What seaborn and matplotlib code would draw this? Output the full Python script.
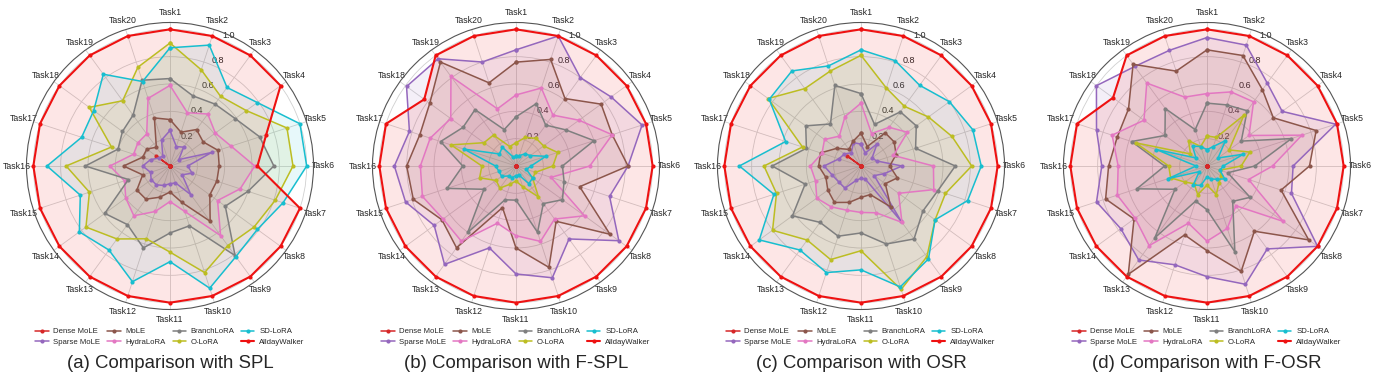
import numpy as np
import pandas as pd
import matplotlib
matplotlib.use("Agg")
import matplotlib.pyplot as plt
import seaborn as sns

sns.set_style("white")
plt.rcParams['font.family'] = ['Liberation Sans', 'DejaVu Sans']

TASKS = [f"Task{i}" for i in range(1, 21)]
METHODS = ["Dense MoLE", "Sparse MoLE", "MoLE", "HydraLoRA",
           "BranchLoRA", "O-LoRA", "SD-LoRA", "AlldayWalker"]
COLORS = ["tab:red", "tab:purple", "tab:brown", "tab:pink",
          "tab:gray", "tab:olive", "tab:cyan", "#ee1111"]
PANEL_TITLES = ["(a) Comparison with SPL", "(b) Comparison with F-SPL",
                "(c) Comparison with OSR", "(d) Comparison with F-OSR"]
RTICKS = [0.2, 0.4, 0.6, 0.8, 1.0]
RTICK_LABELS = ["0.2", "0.4", "0.6", "0.8", "1.0"]

# ---- (a) SPL ----
SPL_DENSE = [0, 0, 0, 0, 0, 0, 0, 0, 0, 0, 0, 0, 0, 0, 0, 0, 0, 0.13, 0, 0]
SPL_SPARSE = [0.26, 0.15, 0.17, 0.08, 0.32, 0.13, 0.17, 0.11, 0.26, 0.13, 0.13, 0.15, 0.17, 0.17, 0.15, 0.20, 0.15, 0.10, 0.09, 0.20]
SPL_MOLE = [0.34, 0.26, 0.33, 0.30, 0.37, 0.36, 0.36, 0.36, 0.50, 0.28, 0.19, 0.24, 0.30, 0.30, 0.21, 0.34, 0.21, 0.21, 0.17, 0.37]
SPL_HYDRA = [0.59, 0.41, 0.47, 0.41, 0.47, 0.62, 0.54, 0.43, 0.63, 0.35, 0.26, 0.35, 0.45, 0.40, 0.35, 0.44, 0.28, 0.29, 0.29, 0.52]
SPL_BRANCH = [0.64, 0.54, 0.56, 0.59, 0.69, 0.76, 0.60, 0.50, 0.81, 0.46, 0.49, 0.63, 0.53, 0.59, 0.32, 0.62, 0.40, 0.43, 0.46, 0.66]
SPL_OLORA = [0.90, 0.74, 0.63, 0.69, 0.90, 0.90, 0.81, 0.76, 0.72, 0.82, 0.63, 0.56, 0.66, 0.76, 0.62, 0.76, 0.45, 0.73, 0.59, 0.76]
SPL_SDLORA = [0.865, 0.93, 0.71, 0.79, 1.0, 1.0, 0.87, 0.79, 0.82, 0.94, 0.70, 0.89, 0.76, 0.82, 0.69, 0.90, 0.68, 0.69, 0.83, 0.65]
SPL_ALLDAY = [1, 1, 1, 1, 0.74, 0.64, 1, 1, 1, 1, 1, 1, 1, 1, 1, 1, 1, 1, 1, 1]

# ---- (b) F-SPL ----
FSPL_DENSE = [0] * 20
FSPL_SPARSE = [0.85, 1.0, 0.80, 0.86, 0.97, 0.82, 0.72, 0.93, 0.66, 0.86, 0.79, 0.63, 0.89, 0.74, 0.85, 0.89, 0.82, 0.99, 0.97, 0.80]
FSPL_MOLE = [0.76, 0.82, 0.61, 0.77, 0.74, 0.82, 0.49, 0.85, 0.50, 0.78, 0.60, 0.32, 0.74, 0.67, 0.79, 0.80, 0.74, 0.78, 0.94, 0.64]
FSPL_HYDRA = [0.52, 0.60, 0.46, 0.57, 0.74, 0.54, 0.27, 0.62, 0.48, 0.58, 0.51, 0.44, 0.68, 0.66, 0.72, 0.70, 0.66, 0.59, 0.81, 0.44]
FSPL_BRANCH = [0.36, 0.48, 0.37, 0.45, 0.60, 0.34, 0.37, 0.42, 0.34, 0.51, 0.25, 0.26, 0.60, 0.29, 0.53, 0.39, 0.58, 0.48, 0.51, 0.28]
FSPL_OLORA = [0.17, 0.22, 0.25, 0.25, 0.32, 0.27, 0.15, 0.15, 0.28, 0.16, 0.11, 0.14, 0.20, 0.18, 0.28, 0.25, 0.50, 0.29, 0.28, 0.15]
FSPL_SDLORA = [0.07, 0.08, 0.11, 0.13, 0.23, 0.11, 0.08, 0.15, 0.16, 0.07, 0.07, 0.09, 0.09, 0.13, 0.13, 0.15, 0.40, 0.15, 0.17, 0.07]
FSPL_ALLDAY = [1, 1, 1, 1, 1, 1, 1, 1, 1, 1, 1, 1, 1, 1, 1, 1, 1, 0.83, 1, 1]

# ---- (c) OSR ----
OSR_DENSE = [0, 0, 0, 0, 0, 0, 0, 0, 0, 0, 0, 0, 0, 0, 0, 0, 0, 0.13, 0, 0]
OSR_SPARSE = [0.16, 0.10, 0.20, 0.10, 0.12, 0.30, 0.18, 0.12, 0.50, 0.10, 0.09, 0.11, 0.20, 0.20, 0.22, 0.27, 0.17, 0.15, 0.12, 0.18]
OSR_MOLE = [0.24, 0.15, 0.30, 0.30, 0.27, 0.21, 0.28, 0.22, 0.37, 0.22, 0.23, 0.28, 0.33, 0.30, 0.27, 0.31, 0.31, 0.22, 0.15, 0.19]
OSR_HYDRA = [0.46, 0.25, 0.35, 0.42, 0.25, 0.53, 0.56, 0.34, 0.51, 0.36, 0.34, 0.34, 0.37, 0.40, 0.35, 0.37, 0.30, 0.33, 0.27, 0.38]
OSR_BRANCH = [0.53, 0.32, 0.49, 0.50, 0.42, 0.69, 0.59, 0.56, 0.66, 0.60, 0.49, 0.54, 0.51, 0.62, 0.43, 0.65, 0.42, 0.50, 0.38, 0.62]
OSR_OLORA = [0.81, 0.60, 0.54, 0.61, 0.70, 0.81, 0.65, 0.67, 0.82, 0.95, 0.62, 0.72, 0.67, 0.80, 0.65, 0.71, 0.45, 0.84, 0.70, 0.73]
OSR_SDLORA = [0.85, 0.81, 0.73, 0.80, 0.86, 0.88, 0.82, 0.67, 0.84, 0.93, 0.76, 0.82, 0.76, 0.92, 0.67, 0.89, 0.58, 0.83, 0.86, 0.77]
OSR_ALLDAY = [1] * 20

# ---- (d) F-OSR ----
FOSR_DENSE = [0] * 20
FOSR_SPARSE = [0.94, 0.93, 0.75, 0.68, 0.99, 0.63, 0.65, 1.0, 0.75, 0.91, 0.81, 0.76, 0.85, 0.78, 0.85, 0.77, 0.85, 1.0, 0.90, 0.89]
FOSR_MOLE = [0.85, 0.85, 0.69, 0.60, 0.84, 0.75, 0.57, 0.92, 0.59, 0.81, 0.62, 0.53, 0.98, 0.66, 0.78, 0.72, 0.69, 0.71, 0.92, 0.73]
FOSR_HYDRA = [0.53, 0.57, 0.58, 0.38, 0.73, 0.48, 0.32, 0.69, 0.36, 0.48, 0.55, 0.44, 0.72, 0.65, 0.69, 0.65, 0.73, 0.57, 0.75, 0.53]
FOSR_BRANCH = [0.46, 0.47, 0.50, 0.31, 0.65, 0.35, 0.16, 0.39, 0.32, 0.66, 0.32, 0.27, 0.65, 0.29, 0.54, 0.31, 0.58, 0.38, 0.52, 0.28]
FOSR_OLORA = [0.22, 0.22, 0.46, 0.20, 0.33, 0.25, 0.10, 0.13, 0.15, 0.22, 0.14, 0.22, 0.16, 0.20, 0.28, 0.28, 0.55, 0.15, 0.23, 0.15]
FOSR_SDLORA = [0.12, 0.15, 0.23, 0.10, 0.28, 0.12, 0.10, 0.16, 0.12, 0.10, 0.08, 0.15, 0.17, 0.07, 0.30, 0.08, 0.39, 0.10, 0.18, 0.15]
FOSR_ALLDAY = [1, 1, 1, 1, 1, 1, 1, 1, 1, 1, 1, 1, 1, 1, 1, 1, 1, 0.85, 1, 1]

PANELS = [
    [SPL_DENSE, SPL_SPARSE, SPL_MOLE, SPL_HYDRA, SPL_BRANCH, SPL_OLORA, SPL_SDLORA, SPL_ALLDAY],
    [FSPL_DENSE, FSPL_SPARSE, FSPL_MOLE, FSPL_HYDRA, FSPL_BRANCH, FSPL_OLORA, FSPL_SDLORA, FSPL_ALLDAY],
    [OSR_DENSE, OSR_SPARSE, OSR_MOLE, OSR_HYDRA, OSR_BRANCH, OSR_OLORA, OSR_SDLORA, OSR_ALLDAY],
    [FOSR_DENSE, FOSR_SPARSE, FOSR_MOLE, FOSR_HYDRA, FOSR_BRANCH, FOSR_OLORA, FOSR_SDLORA, FOSR_ALLDAY],
]

W, H = 1376, 380
fig = plt.figure(figsize=(W / 100, H / 100), dpi=100)
CX = [170, 516, 861, 1207]
CY = 166
R = 143.5

theta = np.linspace(0, 2 * np.pi, len(TASKS), endpoint=False)
t_closed = np.append(theta, theta[0])

for p, (cx, series, title) in enumerate(zip(CX, PANELS, PANEL_TITLES)):
    ax = fig.add_axes([(cx - R) / W, (H - CY - R) / H, 2 * R / W, 2 * R / H],
                      projection='polar')
    ax.set_theta_offset(np.pi / 2)
    ax.set_theta_direction(-1)
    for name, vals, col in zip(METHODS, series, COLORS):
        v_closed = np.append(vals, vals[0])
        df = pd.DataFrame({"theta": t_closed, "value": v_closed})
        lw = 1.5 if name == "AlldayWalker" else 1.1
        sns.lineplot(data=df, x="theta", y="value", sort=False, estimator=None,
                     color=col, marker="o", markersize=3, markeredgewidth=0,
                     linewidth=lw, ax=ax, label=name)
        ax.fill(t_closed, v_closed, color=col, alpha=0.1, linewidth=0)
    ax.set_ylim(0, 1.05)
    ax.set_xticks(theta)
    ax.set_xticklabels(TASKS, fontsize=6.3)
    ax.tick_params(axis='x', pad=-3.5)
    ax.set_yticks(RTICKS)
    ax.set_yticklabels(RTICK_LABELS, fontsize=6.5)
    ax.set_rlabel_position(22.5)
    ax.set_xlabel("")
    ax.set_ylabel("")
    ax.grid(True, color="#d0d0d0", linewidth=0.6)
    ax.spines['polar'].set_color("#555555")
    ax.spines['polar'].set_linewidth(0.8)
    ax.legend(loc="upper center", bbox_to_anchor=(cx / W, 1 - 328 / H),
              bbox_transform=fig.transFigure, ncol=4, frameon=False,
              fontsize=5.6, handlelength=1.7, columnspacing=0.9,
              handletextpad=0.6, labelspacing=0.35, borderaxespad=0,
              borderpad=0)
    fig.text(cx / W, 1 - 363 / H, title, ha="center", va="center", fontsize=13.4)

fig.savefig("out.png", dpi=100)
